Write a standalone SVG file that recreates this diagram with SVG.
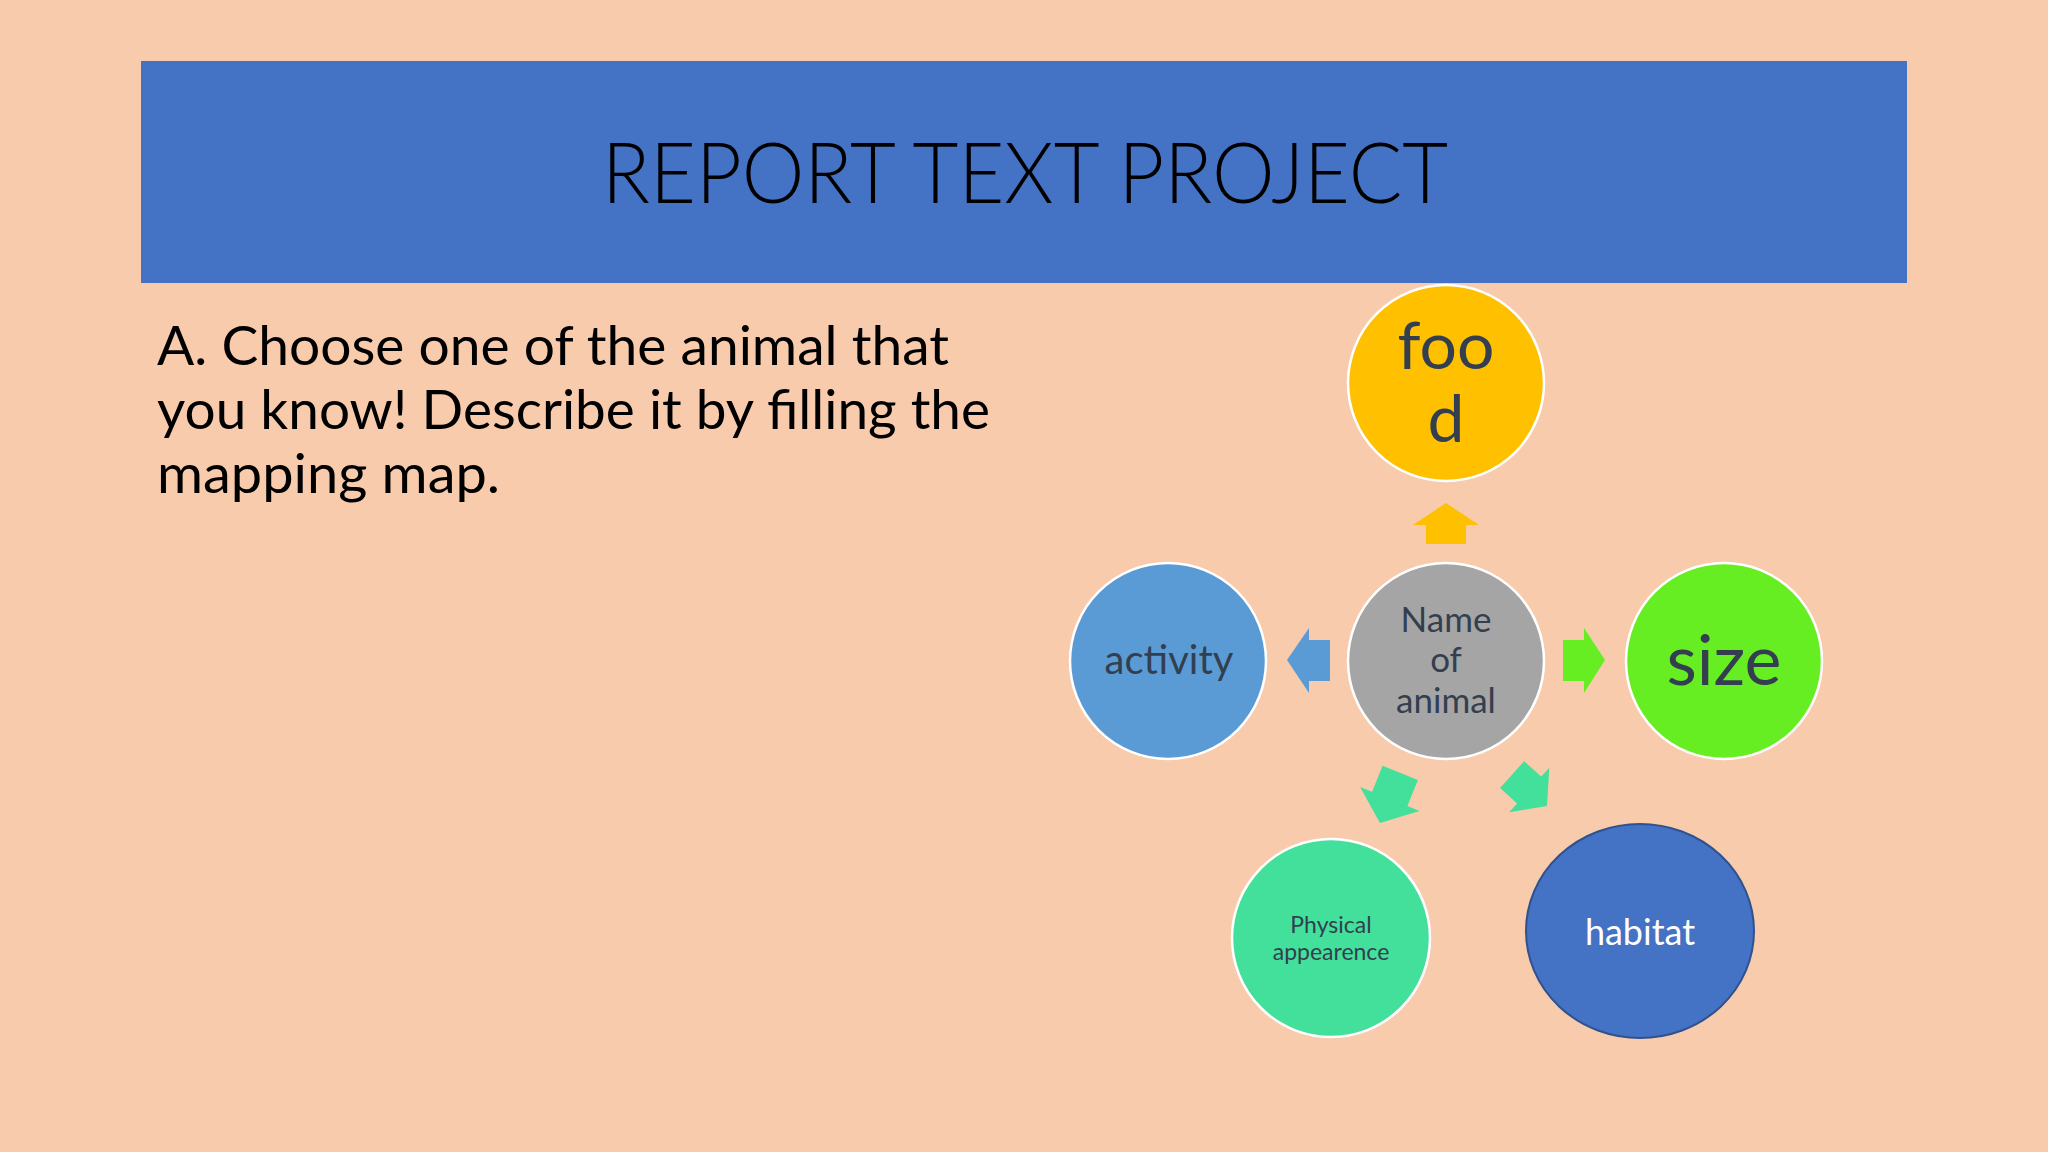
<svg xmlns="http://www.w3.org/2000/svg" width="2048" height="1152" viewBox="0 0 2048 1152">
<style>
.lbl{font-family:Lato,"Open Sans","Liberation Sans",sans-serif;fill:#333F4F;text-anchor:middle}
.node{stroke:#FFFFFF;stroke-width:2.5}
</style>
<rect x="0" y="0" width="2048" height="1152" fill="#F8CBAD"/>
<g id="header">
<rect x="141" y="61" width="1766" height="222" fill="#4472C4"/>
<text x="1025" y="203" font-family="Lato,'Open Sans','Liberation Sans',sans-serif" font-weight="300" font-size="84" fill="#000000" text-anchor="middle" textLength="846" lengthAdjust="spacingAndGlyphs">REPORT TEXT PROJECT</text>
</g>
<g id="instructions" font-family="Lato,'Open Sans','Liberation Sans',sans-serif" font-size="54" fill="#000000">
<text x="157" y="365" textLength="792" lengthAdjust="spacingAndGlyphs">A. Choose one of the animal that</text>
<text x="157" y="429" textLength="833" lengthAdjust="spacingAndGlyphs">you know! Describe it by filling the</text>
<text x="157" y="493" textLength="343" lengthAdjust="spacingAndGlyphs">mapping map.</text>
</g>
<g id="connectors">
<polygon points="1446,503 1479,525 1466,525 1466,544 1426,544 1426,525 1413,525" fill="#FFC000"/>
<polygon points="1287,660 1309,628 1309,640 1330,640 1330,681 1309,681 1309,693" fill="#5B9BD5"/>
<polygon points="1605,660 1584,628 1584,640 1563,640 1563,681 1584,681 1584,693" fill="#66EE22"/>
<polygon points="1382.6,765.8 1417.9,780 1407.4,806 1419.4,810.9 1380,823 1360.1,786.9 1372.1,791.8" fill="#42E09A"/>
<polygon points="1524.1,761.2 1541.2,776.6 1549.3,767.7 1547,806 1509.1,812.3 1517.2,803.4 1500.1,788" fill="#42E09A"/>
</g>
<g id="node-food">
<circle class="node" cx="1446" cy="383" r="98" fill="#FFC000"/>
<text class="lbl" x="1446" y="369" font-size="66">foo</text>
<text class="lbl" x="1446" y="442" font-size="66">d</text>
</g>
<g id="node-center">
<circle class="node" cx="1446" cy="661" r="98" fill="#A5A5A5"/>
<text class="lbl" x="1446" y="632" font-size="35">Name</text>
<text class="lbl" x="1446" y="672" font-size="35">of</text>
<text class="lbl" x="1446" y="713" font-size="35">animal</text>
</g>
<g id="node-activity">
<circle class="node" cx="1168" cy="661" r="98" fill="#5B9BD5"/>
<text class="lbl" x="1169" y="674" font-size="40">activity</text>
</g>
<g id="node-size">
<circle class="node" cx="1724" cy="661" r="98" fill="#66EE22"/>
<text class="lbl" x="1724" y="685" font-size="70">size</text>
</g>
<g id="node-physical">
<ellipse class="node" cx="1331" cy="938" rx="99" ry="99" fill="#42E09A"/>
<text class="lbl" x="1331" y="933" font-size="23">Physical</text>
<text class="lbl" x="1331" y="960" font-size="23">appearence</text>
</g>
<g id="node-habitat">
<ellipse cx="1640" cy="931" rx="114" ry="107" fill="#4472C4" stroke="#2F528F" stroke-width="2"/>
<text x="1640" y="945" font-family="Lato,'Open Sans','Liberation Sans',sans-serif" font-size="36" fill="#FFFFFF" text-anchor="middle">habitat</text>
</g>
</svg>
